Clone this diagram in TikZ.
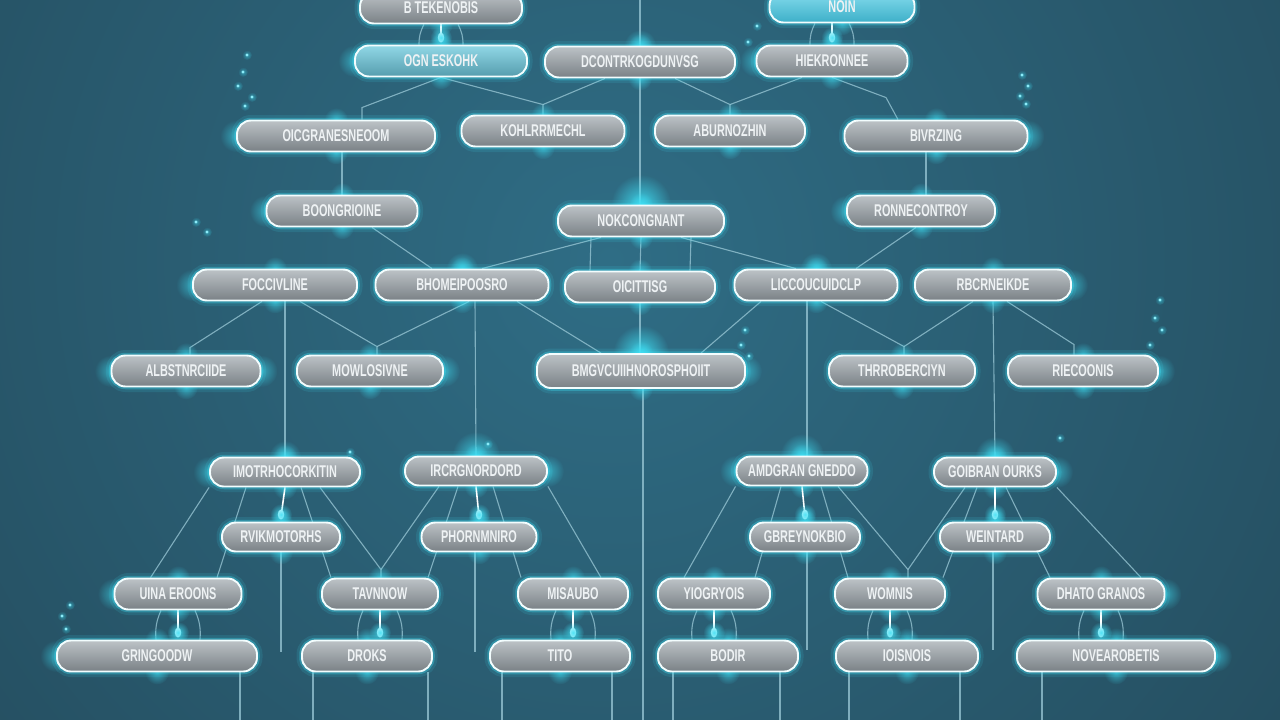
\documentclass[tikz,border=0pt]{standalone}
\usepackage{fontspec}
\newfontfamily\nf[FakeStretch=0.64]{Liberation Sans}
\usetikzlibrary{fadings}
\pgfdeclarelayer{back}
\pgfdeclarelayer{links}
\pgfsetlayers{back,links,main}
\definecolor{bgin}{HTML}{2F6D85}
\definecolor{bgout}{HTML}{1B303C}
\definecolor{linkc}{HTML}{9CCAD8}
\definecolor{glowc}{HTML}{3FE0F5}
\definecolor{ntop}{HTML}{BCC2C6}
\definecolor{nbot}{HTML}{7A8186}
\definecolor{ntext}{HTML}{EEF2F4}
\definecolor{ctop}{HTML}{86DDEE}
\definecolor{cbot}{HTML}{3DAFC8}
\tikzfading[name=glowfade, inner color=transparent!0, outer color=transparent!100]
\tikzset{
  box/.style={rectangle, rounded corners=14pt, draw=white!94!glowc, line width=1.9pt,
    top color=ntop, bottom color=nbot, minimum width=#1, minimum height=31, inner sep=0pt,
    text=ntext, font=\nf\bfseries\fontsize{17}{19}\selectfont,
    preaction={draw=glowc, line width=11pt, draw opacity=0.12},
    preaction={draw=glowc, line width=5.5pt, draw opacity=0.32}},
  sbox/.style={box=#1, minimum height=29},
  cyanbox/.style={top color=ctop, bottom color=cbot},
  cyanish/.style={top color=ctop!80!ntop, bottom color=cbot!60!nbot},
  link/.style={draw=linkc, line width=1.1pt, draw opacity=0.75},
  spot/.style={fill=glowc, path fading=glowfade, fill opacity=#1},
  spot/.default=0.6,
  dot/.style={fill=glowc!60!white}
}
\newcommand\dripline[2]{%
  \path (#1) coordinate (dp) (#2) coordinate (dc);
  \draw[white, line width=1.6pt] (dp) -- ([yshift=5pt]dc);
  \fill[white] ([yshift=7pt]dc) ellipse (3.2 and 5);
  \fill[spot=0.9] ([yshift=7pt]dc) circle (11);}
\newcommand\arcpair[2]{%
  \path (#1) coordinate (ap) (#2) coordinate (ac);
  \draw[link] ([xshift=-17pt]ap) to[bend right=14] ([xshift=-22pt]ac);
  \draw[link] ([xshift=17pt]ap) to[bend left=14] ([xshift=22pt]ac);}
\begin{document}
\begin{tikzpicture}[x=1pt,y=-1pt]
\useasboundingbox (0,0) rectangle (1280,720);
\begin{pgfonlayer}{back}
  \shade[inner color=bgin, outer color=bgout] (610,260) circle (1650);
\end{pgfonlayer}

% ---------- nodes ----------
\node[box=162] (A1) at (441,8) {B TEKENOBIS};
\node[box=145, cyanbox] (A2) at (842,7) {NOIN};
\node[box=172, cyanish] (B1) at (441,61) {OGN ESKOHK};
\node[box=190] (B2) at (640,62) {DCONTRKOGDUNVSG};
\node[box=151] (B3) at (832,61) {HIEKRONNEE};
\node[box=198] (C1) at (336,136) {OICGRANESNEOOM};
\node[box=163] (C2) at (543,131) {KOHLRRMECHL};
\node[box=150] (C3) at (730,131) {ABURNOZHIN};
\node[box=183] (C4) at (936,136) {BIVRZING};
\node[box=151] (D1) at (342,211) {BOONGRIOINE};
\node[box=166] (D2) at (641,221) {NOKCONGNANT};
\node[box=148] (D3) at (921,211) {RONNECONTROY};
\node[box=164] (E1) at (275,285) {FOCCIVLINE};
\node[box=173] (E2) at (462,285) {BHOMEIPOOSRO};
\node[box=150] (E3) at (640,287) {OICITTISG};
\node[box=163] (E4) at (816,285) {LICCOUCUIDCLP};
\node[box=156] (E5) at (993,285) {RBCRNEIKDE};
\node[box=149] (F1) at (186,371) {ALBSTNRCIIDE};
\node[box=146] (F2) at (370,371) {MOWLOSIVNE};
\node[box=208, minimum height=34] (F3) at (641,371) {BMGVCUIIHNOROSPHOIIT};
\node[box=146] (F4) at (902,371) {THRROBERCIYN};
\node[box=150] (F5) at (1083,371) {RIECOONIS};
\node[sbox=150] (G1) at (285,472) {IMOTRHOCORKITIN};
\node[sbox=142] (G2) at (476,471) {IRCRGNORDORD};
\node[sbox=131] (G3) at (802,471) {AMDGRAN GNEDDO};
\node[sbox=122] (G4) at (995,472) {GOIBRAN OURKS};
\node[sbox=118] (H1) at (281,537) {RVIKMOTORHS};
\node[sbox=115] (H2) at (479,537) {PHORNMNIRO};
\node[sbox=110] (H3) at (805,537) {GBREYNOKBIO};
\node[sbox=110] (H4) at (995,537) {WEINTARD};
\node[box=127] (I1) at (178,594) {UINA EROONS};
\node[box=116] (I2) at (380,594) {TAVNNOW};
\node[box=110] (I3) at (573,594) {MISAUBO};
\node[box=112] (I4) at (714,594) {YIOGRYOIS};
\node[box=110] (I5) at (890,594) {WOMNIS};
\node[box=127] (I6) at (1101,594) {DHATO GRANOS};
\node[box=200] (J1) at (157,656) {GRINGOODW};
\node[box=130] (J2) at (367,656) {DROKS};
\node[box=140] (J3) at (560,656) {TITO};
\node[box=140] (J4) at (728,656) {BODIR};
\node[box=142] (J5) at (907,656) {IOISNOIS};
\node[box=198] (J6) at (1116,656) {NOVEAROBETIS};

% ---------- free ends ----------
\coordinate (topC) at (640,-5);
\coordinate (botC) at (643,725);
\coordinate (h1e) at (281,652);
\coordinate (h2e) at (475,652);
\coordinate (h3e) at (807,650);
\coordinate (h4e) at (993,650);

\begin{pgfonlayer}{links}
% spine
\draw[link] (topC) -- (B2.north);
\draw[link] (B2.south) -- ([xshift=-1pt]D2.north);
\draw[link] (D2.south) -- (E3.north);
\draw[link] ([xshift=-50pt]D2.south) -- ([xshift=-50pt]E3.north);
\draw[link] ([xshift=50pt]D2.south) -- ([xshift=50pt]E3.north);
\draw[link] (E3.south) -- ([xshift=-1pt]F3.north);
\draw[link] ([xshift=2pt]F3.south) -- (botC);
% A -> B
\arcpair{A1.south}{B1.north}
\arcpair{[xshift=-10pt]A2.south}{B3.north}
% B -> C
\draw[link] (B1.south) -- ([xshift=26pt,yshift=12pt]C1.north) -- ([xshift=26pt]C1.north);
\draw[link] (B1.south) -- ([yshift=10pt]C2.north) -- (C2.north);
\draw[link] ([xshift=-35pt]B2.south) -- ([yshift=10pt]C2.north);
\draw[link] ([xshift=35pt]B2.south) -- ([yshift=10pt]C3.north) -- (C3.north);
\draw[link] ([xshift=-30pt]B3.south) -- ([yshift=10pt]C3.north);
\draw[link] (B3.south) -- ([xshift=-50pt,yshift=22pt]C4.north) -- ([xshift=-38pt]C4.north);
% C -> D
\draw[link] ([xshift=6pt]C1.south) -- (D1.north);
\draw[link] ([xshift=-10pt]C4.south) -- ([xshift=5pt]D3.north);
% D -> E
\draw[link] ([xshift=30pt]D1.south) -- ([xshift=-30pt]E2.north);
\draw[link] ([xshift=-40pt]D2.south) -- ([xshift=20pt]E2.north);
\draw[link] ([xshift=40pt]D2.south) -- ([xshift=-20pt]E4.north);
\draw[link] ([xshift=-5pt]D3.south) -- ([xshift=40pt]E4.north);
% E -> F
\draw[link] ([xshift=-13pt]E1.south) -- ([xshift=4pt,yshift=7pt]F1.north) -- ([xshift=4pt]F1.north);
\draw[link] ([xshift=25pt]E1.south) -- ([xshift=7pt,yshift=8pt]F2.north) -- ([xshift=7pt]F2.north);
\draw[link] ([xshift=7pt]E2.south) -- ([xshift=7pt,yshift=8pt]F2.north);
\draw[link] ([xshift=55pt]E2.south) -- ([xshift=-40pt]F3.north);
\draw[link] ([xshift=-55pt]E4.south) -- ([xshift=60pt]F3.north);
\draw[link] ([xshift=5pt]E4.south) -- ([xshift=2pt,yshift=8pt]F4.north) -- ([xshift=2pt]F4.north);
\draw[link] ([xshift=-20pt]E5.south) -- ([xshift=2pt,yshift=8pt]F4.north);
\draw[link] ([xshift=14pt]E5.south) -- ([xshift=-9pt,yshift=10pt]F5.north) -- ([xshift=-9pt]F5.north);
% E -> G
\draw[link] ([xshift=10pt]E1.south) -- (G1.north);
\draw[link] ([xshift=13pt]E2.south) -- (G2.north);
\draw[link] ([xshift=-9pt]E4.south) -- ([xshift=5pt]G3.north);
\draw[link] (E5.south) -- (G4.north);
% G fans
\draw[link] (G1.south west) -- ([xshift=37pt]I1.north west);
\draw[link] ([xshift=-39pt]G1.south) -- ([xshift=39pt]I1.north);
\draw[link] ([xshift=16pt]G1.south) -- ([xshift=-49pt]I2.north);
\draw[link] ([xshift=35pt]G1.south) -- ([xshift=1pt,yshift=8pt]I2.north) -- ([xshift=1pt]I2.north);
\draw[link] ([xshift=-37pt]G2.south) -- ([xshift=1pt,yshift=8pt]I2.north);
\draw[link] ([xshift=-18pt]G2.south) -- ([xshift=48pt]I2.north);
\draw[link] ([xshift=17pt]G2.south) -- ([xshift=-52pt]I3.north);
\draw[link] (G2.south east) -- ([xshift=28pt]I3.north);
\draw[link] (G3.south west) -- ([xshift=-30pt]I4.north);
\draw[link] ([xshift=-21pt]G3.south) -- ([xshift=41pt]I4.north);
\draw[link] ([xshift=19pt]G3.south) -- ([xshift=-42pt]I5.north);
\draw[link] ([xshift=36pt]G3.south) -- ([xshift=18pt,yshift=8pt]I5.north) -- ([xshift=18pt]I5.north);
\draw[link] ([xshift=-30pt]G4.south) -- ([xshift=18pt,yshift=8pt]I5.north);
\draw[link] ([xshift=-18pt]G4.south) -- ([xshift=53pt]I5.north);
\draw[link] ([xshift=11pt]G4.south) -- ([xshift=-51pt]I6.north);
\draw[link] (G4.south east) -- ([xshift=40pt]I6.north);
% H dangling
\draw[link] (H1.south) -- (h1e);
\draw[link] ([xshift=-4pt]H2.south) -- (h2e);
\draw[link] ([xshift=2pt]H3.south) -- (h3e);
\draw[link] ([xshift=-2pt]H4.south) -- (h4e);
% I -> J arcs
\arcpair{I1.south}{I1.south |- J1.north}
\arcpair{I2.south}{I2.south |- J2.north}
\arcpair{I3.south}{I3.south |- J3.north}
\arcpair{I4.south}{I4.south |- J4.north}
\arcpair{I5.south}{I5.south |- J5.north}
\arcpair{I6.south}{I6.south |- J6.north}
% J -> bottom edge
\foreach \n/\dx in {J1/83, J2/-54, J2/61, J3/-58, J3/52, J4/-55, J4/52, J5/-58, J5/53, J6/-74}
  \draw[link] ([xshift=\dx pt]\n.south) -- ([xshift=\dx pt, yshift=-60pt]\n.south);

% glows at node tops and bottoms
\foreach \n in {A1,A2,B1,B2,B3,C1,C2,C3,C4,D1,D2,D3,E1,E2,E3,E4,E5,F1,F2,F3,F4,F5,G1,G2,G3,G4,H1,H2,H3,H4,I1,I2,I3,I4,I5,I6,J1,J2,J3,J4,J5,J6}{
  \fill[spot=0.6] (\n.north) circle (12);
  \fill[spot=0.6] (\n.south) circle (12);
}
\foreach \n in {C1.west,C4.east,E1.west,F1.west,F5.east,J1.west,J6.east,F3.east,I1.west,I6.east,B1.west,B3.west,E5.east,D1.west,D3.west,F1.east,F2.east,G1.west,G2.east,G3.west,G4.east}
  \fill[spot=0.55] (\n) circle (16);
\fill[spot=0.9] (D2.north) circle (30);
\fill[spot=0.9] (F3.north) circle (28);
\fill[spot=0.8] (G2.north) circle (24);
\fill[spot=0.8] (G3.north) circle (22);
\fill[spot=0.8] (G4.north) circle (20);
\fill[spot=0.7] (G1.north) circle (16);
\fill[spot=0.7] (E2.north) circle (16);
\fill[spot=0.7] (E4.north) circle (16);
\fill[spot=0.7] (B2.north) circle (16);

% drips
\dripline{A1.south}{B1.north}
\dripline{[xshift=-10pt]A2.south}{B3.north}
\dripline{G1.south}{H1.north}
\dripline{G2.south}{H2.north}
\dripline{G3.south}{H3.north}
\dripline{G4.south}{H4.north}
\dripline{I1.south}{I1.south |- J1.north}
\dripline{I2.south}{I2.south |- J2.north}
\dripline{I3.south}{I3.south |- J3.north}
\dripline{I4.south}{I4.south |- J4.north}
\dripline{I5.south}{I5.south |- J5.north}
\dripline{I6.south}{I6.south |- J6.north}

% particles
\foreach \p in {(247,55),(243,72),(238,86),(252,97),(245,106),(1022,75),(1028,86),(1020,96),(1026,104),(757,26),(748,42),(745,330),(741,345),(749,356),(1160,300),(1155,318),(1162,330),(1150,345),(70,605),(62,616),(66,629),(196,222),(207,232),(350,452),(488,444),(1060,438)}
  {\fill[spot=0.5] \p circle (5); \fill[dot] \p circle (1.6);}
\end{pgfonlayer}
\end{tikzpicture}
\end{document}
